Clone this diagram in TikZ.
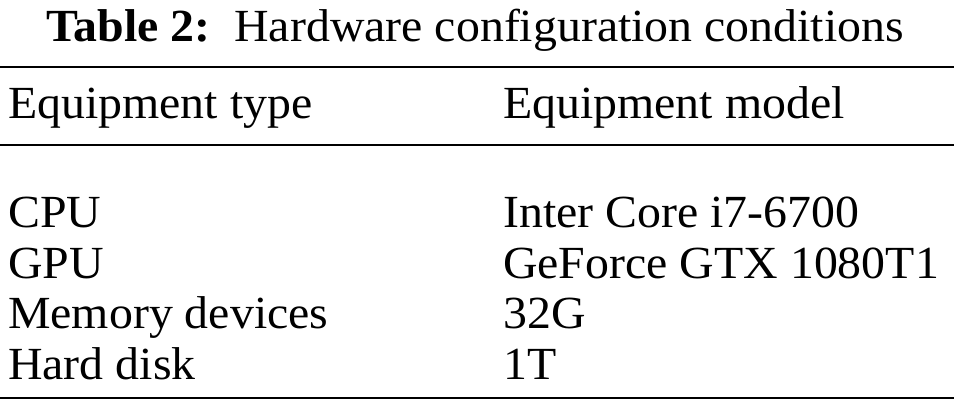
\documentclass[tikz,border=0pt]{standalone}
\usepackage{fontspec}
\setmainfont{Liberation Serif}
\begin{document}
\begin{tikzpicture}[x=1pt,y=-1pt,
  cell/.style={anchor=base west,inner sep=0pt,font=\fontsize{46}{50}\selectfont,xscale=1.04},
  rule/.style={line width=2.5pt}]
\useasboundingbox (0,0) rectangle (954,404);
\node[anchor=base,inner sep=0pt,font=\fontsize{46}{50}\selectfont,xscale=1.04] (t) at (475,42) {\textbf{Table 2:}\ \ Hardware configuration conditions};
\coordinate (l1a) at (0,67); \coordinate (l1b) at (954,67);
\coordinate (l2a) at (0,145); \coordinate (l2b) at (954,145);
\coordinate (l3a) at (0,398); \coordinate (l3b) at (954,398);
\draw[rule] (l1a) -- (l1b);
\draw[rule,line width=1.8pt] (l2a) -- (l2b);
\draw[rule] (l3a) -- (l3b);
\node[cell] (h1) at (8,118) {Equipment type};
\node[cell] (h2) at (503,118) {Equipment model};
\node[cell] (a1) at (8,227) {CPU};
\node[cell] (b1) at (503,227) {Inter Core i7-6700};
\node[cell] (a2) at (8,278) {GPU};
\node[cell] (b2) at (503,278) {GeForce GTX 1080T1};
\node[cell] (a3) at (8,328) {Memory devices};
\node[cell] (b3) at (503,328) {32G};
\node[cell] (a4) at (8,379) {Hard disk};
\node[cell] (b4) at (503,379) {1T};
\end{tikzpicture}
\end{document}
